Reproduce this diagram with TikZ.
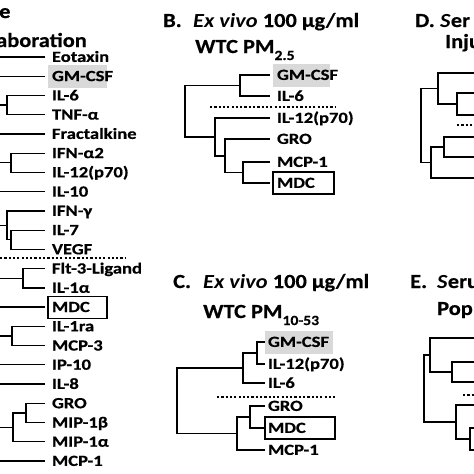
\documentclass[tikz,border=0pt]{standalone}
\usepackage{fontspec}
\setmainfont{Carlito}[FakeStretch=1.12,BoldFeatures={FakeBold=0.5}]
\newfontfamily\lblfam{Carlito}[FakeStretch=1.2,BoldFeatures={FakeBold=0.6}]
\usetikzlibrary{positioning}
\definecolor{hl}{RGB}{217,217,217}
\newcommand\lblfont{\lblfam\fontsize{15.5}{17}\selectfont\bfseries}
\newcommand\ttlfont{\fontsize{20}{22}\selectfont\bfseries}
\newcommand\subfont{\fontsize{14}{14}\selectfont\bfseries}

\begin{document}
\begin{tikzpicture}[x=1pt,y=-1pt,
    leaf/.style={anchor=west,inner xsep=4pt,inner ysep=0pt,outer xsep=3pt,outer ysep=0pt,
      text height=9.8pt,text depth=0pt,font=\lblfont},
    leafC/.style={inner xsep=3pt,outer xsep=0pt},
    hilite/.style={fill=hl,minimum height=23pt},
    boxed/.style={draw,line width=1.1pt,minimum height=22pt},
    ttl/.style={anchor=base west,inner sep=0pt,font=\ttlfont},
    sepline/.style={line width=2.2pt,dash pattern=on 2.2pt off 2.1pt},
    treeA/.style={line width=1.3pt},
    treeB/.style={line width=1.7pt},
    treeD/.style={line width=1.5pt},
    treeE/.style={line width=1.2pt}]
\useasboundingbox (0,0) rectangle (474,474);
\clip (0,0) rectangle (474,474);

\node[ttl] (At1) at (-1,18) {e};
\node[ttl] (At2) at (-4,47) {aboration};

\node[leaf] (Eot) at (45,57) {Eotaxin};
\node[leaf,hilite,text width=51pt] (GM) at (45,76.2) {\mbox{GM-CSF}};
\node[leaf] (IL6) at (45,95.5) {IL-6};
\node[leaf] (TNF) at (45,114.7) {TNF-α};
\node[leaf] (Frac) at (45,134) {Fractalkine};
\node[leaf] (IFNa) at (45,153.2) {IFN-α2};
\node[leaf] (IL12) at (45,172.4) {IL-12(p70)};
\node[leaf] (IL10) at (45,191.7) {IL-10};
\node[leaf] (IFNg) at (45,210.9) {IFN-γ};
\node[leaf] (IL7) at (45,230.2) {IL-7};
\node[leaf] (VEGF) at (45,249.4) {VEGF};
\node[leaf] (Flt) at (45,268.6) {Flt-3-Ligand};
\node[leaf] (IL1a) at (45,287.9) {IL-1α};
\node[leaf,boxed,text width=51pt] (MDC) at (45,307.1) {MDC};
\node[leaf] (IL1ra) at (45,326.4) {IL-1ra};
\node[leaf] (MCP3) at (45,345.6) {MCP-3};
\node[leaf] (IP10) at (45,364.8) {IP-10};
\node[leaf] (IL8) at (45,384) {IL-8};
\node[leaf] (GRO) at (45,403.3) {GRO};
\node[leaf] (MIPb) at (45,422.6) {MIP-1β};
\node[leaf] (MIPa) at (45,441.8) {MIP-1α};
\node[leaf] (MCP1) at (45,461) {MCP-1};

\coordinate (a1) at (7,105.1);
\coordinate (a2) at (11,162.8);
\coordinate (a3) at (11,239.8);
\coordinate (a4) at (7,225.4);
\coordinate (a5) at (23,278.3);
\coordinate (a6) at (12,336);
\coordinate (a7) at (26,413);
\coordinate (a8) at (13,427.4);

\draw[treeA] (Eot.west) -- ++(-50,0);
\draw[treeA] (GM.west) -- ++(-50,0);
\draw[treeA] (IL6.west) -| (a1) |- (TNF.west);
\draw[treeA] (a1) -- ++(-10,0);
\draw[treeA] (Frac.west) -- ++(-50,0);
\draw[treeA] (IFNa.west) -| (a2) |- (IL12.west);
\draw[treeA] (a2) -- ++(-15,0);
\draw[treeA] (IL10.west) -- ++(-50,0);
\draw[treeA] (IL7.west) -| (a3) |- (VEGF.west);
\draw[treeA] (IFNg.west) -| (a4) |- (a3);
\draw[treeA] (a4) -- ++(-10,0);
\draw[treeA] (Flt.west) -| (a5) |- (IL1a.west);
\draw[treeA] (a5) -- ++(-30,0);
\draw[treeA] (MDC.west) -- ++(-50,0);
\draw[treeA] (IL1ra.west) -| (a6) |- (MCP3.west);
\draw[treeA] (a6) -- ++(-15,0);
\draw[treeA] (IP10.west) -- ++(-50,0);
\draw[treeA] (IL8.west) -- ++(-50,0);
\draw[treeA] (GRO.west) -| (a7) |- (MIPb.west);
\draw[treeA] (a7) -| (a8) |- (MIPa.west);
\draw[treeA] (a8) -- ++(-20,0);
\draw[treeA] (MCP1.west) -- ++(-50,0);
\draw[sepline] (0,258) -- (125,258);

\node[ttl] (Blet) at (163,27) {B.};
\node[ttl] (Bt1) at (193,27) {\textit{Ex vivo} 100 μg/ml};
\node[ttl] (Bt2) at (195,53) {WTC PM\raisebox{-7pt}{\subfont 2.5}};

\node[leaf,hilite,text width=49pt] (bGM) at (270,75) {\mbox{GM-CSF}};
\node[leaf] (bIL6) at (270,96) {IL-6};
\node[leaf] (bIL12) at (270,118) {IL-12(p70)};
\node[leaf] (bGRO) at (270,139) {GRO};
\node[leaf] (bMCP1) at (270,162) {MCP-1};
\node[leaf,boxed,text width=53pt] (bMDC) at (270,183) {MDC};

\coordinate (b1) at (240,85.5);
\coordinate (b2) at (243,172.5);
\coordinate (b3) at (225,155.8);
\coordinate (b4) at (215,136.9);
\coordinate (b5) at (185,111.2);

\draw[treeB] (bGM.west) -| (b1) |- (bIL6.west);
\draw[treeB] (bMCP1.west) -| (b2) |- (bMDC.west);
\draw[treeB] (bGRO.west) -| (b3) |- (b2);
\draw[treeB] (bIL12.west) -| (b4) |- (b3);
\draw[treeB] (b1) -| (b5) |- (b4);
\draw[sepline] (210,107) -- (335,107);

\node[ttl] (Clet) at (173,288) {C.};
\node[ttl] (Ct1) at (203,288) {\textit{Ex vivo} 100 μg/ml};
\node[ttl] (Ct2) at (203,318) {WTC PM\raisebox{-7pt}{\subfont 10-53}};

\node[leaf,leafC,hilite,text width=62pt] (cGM) at (265,342) {\mbox{GM-CSF}};
\node[leaf,leafC] (cIL12) at (265,364) {IL-12(p70)};
\node[leaf,leafC] (cIL6) at (265,383) {IL-6};
\node[leaf,leafC] (cGRO) at (265,406) {GRO};
\node[leaf,leafC,boxed,text width=64pt] (cMDC) at (265,428) {MDC};
\node[leaf,leafC] (cMCP1) at (265,450) {MCP-1};

\coordinate (c1) at (257,353);
\coordinate (c2) at (243,368);
\coordinate (c3) at (250,417);
\coordinate (c4) at (237,433.5);
\coordinate (c5) at (177,400.8);

\draw[treeB] (cGM.west) -| (c1) |- (cIL12.west);
\draw[treeB] (c1) -| (c2) |- (cIL6.west);
\draw[treeB] (cGRO.west) -| (c3) |- (cMDC.west);
\draw[treeB] (c3) -| (c4) |- (cMCP1.west);
\draw[treeB] (c2) -| (c5) |- (c4);
\draw[sepline] (217,397) -- (335,397);

\node[ttl] (Dlet) at (415,27) {D.};
\node[ttl] (Dt1) at (440,27) {\textit{S}er};
\node[ttl] (Dt2) at (445,48) {Inju};

\coordinate (dl1) at (480,73);
\coordinate (dl2) at (480,93);
\coordinate (dl3) at (480,115);
\coordinate (dl4) at (480,137);
\coordinate (dl5) at (480,157);
\coordinate (dl6) at (480,178);
\coordinate (d1) at (457,104);
\coordinate (d2) at (438,88.5);
\coordinate (d3) at (444,147);
\coordinate (d4) at (431,162.5);
\coordinate (d5) at (421,125.5);

\draw[treeD] (dl2) -| (d1) |- (dl3);
\draw[treeD] (dl1) -| (d2) |- (d1);
\draw[treeD] (dl4) -| (d3) |- (dl5);
\draw[treeD] (d3) -| (d4) |- (dl6);
\draw[treeD] (d2) -| (d5) |- (d4);
\draw[sepline] (457,125) -- (480,125);

\node[ttl] (Elet) at (410,288) {E.};
\node[ttl] (Et1) at (437,288) {\textit{S}eru};
\node[ttl] (Et2) at (437,315) {Pop};

\coordinate (el1) at (480,338);
\coordinate (el2) at (480,362);
\coordinate (el3) at (480,382);
\coordinate (el4) at (480,405);
\coordinate (el5) at (480,428);
\coordinate (el6) at (480,450);
\coordinate (e1) at (452,372);
\coordinate (e2) at (430,355);
\coordinate (e3) at (470,439);
\coordinate (e4) at (456,422);
\coordinate (e5) at (424,388.5);

\draw[treeE] (el2) -| (e1) |- (el3);
\draw[treeE] (el1) -| (e2) |- (e1);
\draw[treeE] (el5) -| (e3) |- (el6);
\draw[treeE] (el4) -| (e4) |- (e3);
\draw[treeE] (e2) -| (e5) |- (e4);
\draw[sepline] (463,395) -- (480,395);
\end{tikzpicture}
\end{document}
